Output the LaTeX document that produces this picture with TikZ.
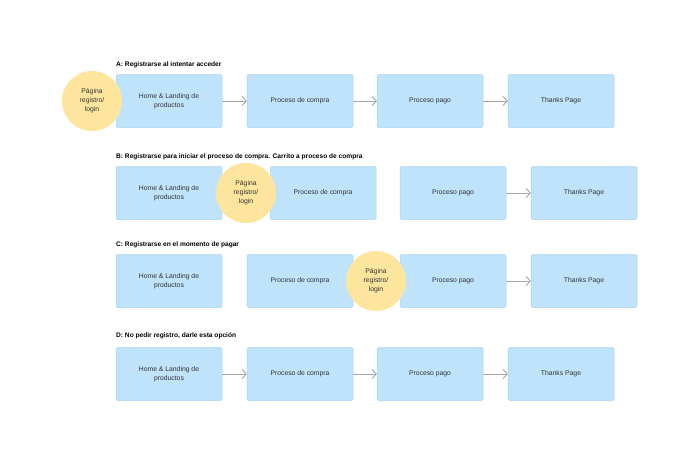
\documentclass[tikz,border=0pt]{standalone}
\usepackage{fontspec}
\setmainfont{Liberation Sans}
\usetikzlibrary{arrows.meta}
\definecolor{boxblue}{HTML}{BEE3FB}
\definecolor{boxedge}{HTML}{A9D4F3}
\definecolor{loginyel}{HTML}{FDE59E}
\tikzstyle{stage}=[rectangle,rounded corners=1.5pt,fill=boxblue,draw=boxedge,line width=0.5pt,minimum width=106pt,minimum height=53pt,inner sep=2pt,align=center,font=\fontsize{6.8}{9}\selectfont,text=black!80]
\tikzstyle{login}=[circle,fill=loginyel,minimum size=60pt,inner sep=0pt,align=center,font=\fontsize{6.8}{9}\selectfont,text=black!80]
\tikzstyle{title}=[anchor=west,inner sep=0pt,font=\bfseries\fontsize{6.6}{8}\selectfont]
\tikzstyle{flow}=[-{Straight Barb[length=4pt,width=9pt]},draw=gray!70,line width=0.9pt]

\begin{document}
\begin{tikzpicture}[x=1pt,y=-1pt]
\useasboundingbox (0,0) rectangle (700,463);
% A
\node[title] at (116,65) (ta) {A: Registrarse al intentar acceder};
\node[stage] at (169,101) (a1) {Home \& Landing de\\productos};
\node[stage] at (300,101) (a2) {Proceso de compra};
\node[stage] at (430,101) (a3) {Proceso pago};
\node[stage] at (561,101) (a4) {Thanks Page};
\node[login] at (92,101) (al) {Página\\registro/\\login};
\draw[flow] (a1) -- (a2);
\draw[flow] (a2) -- (a3);
\draw[flow] (a3) -- (a4);
% B
\node[title] at (116,157) (tb) {B: Registrarse para iniciar el proceso de compra. Carrito a proceso de compra};
\node[stage] at (169,193) (b1) {Home \& Landing de\\productos};
\node[stage] at (323,193) (b2) {Proceso de compra};
\node[stage] at (453,193) (b3) {Proceso pago};
\node[stage] at (584,193) (b4) {Thanks Page};
\node[login] at (246,193) (bl) {Página\\registro/\\login};
\draw[flow] (b3) -- (b4);
% C
\node[title] at (116,245) (tc) {C: Registrarse en el momento de pagar};
\node[stage] at (169,281) (c1) {Home \& Landing de\\productos};
\node[stage] at (300,281) (c2) {Proceso de compra};
\node[stage] at (453,281) (c3) {Proceso pago};
\node[stage] at (584,281) (c4) {Thanks Page};
\node[login] at (376,281) (cl) {Página\\registro/\\login};
\draw[flow] (c3) -- (c4);
% D
\node[title] at (116,336) (td) {D: No pedir registro, darle esta opción};
\node[stage] at (169,374) (d1) {Home \& Landing de\\productos};
\node[stage] at (300,374) (d2) {Proceso de compra};
\node[stage] at (430,374) (d3) {Proceso pago};
\node[stage] at (561,374) (d4) {Thanks Page};
\draw[flow] (d1) -- (d2);
\draw[flow] (d2) -- (d3);
\draw[flow] (d3) -- (d4);
\end{tikzpicture}
\end{document}
